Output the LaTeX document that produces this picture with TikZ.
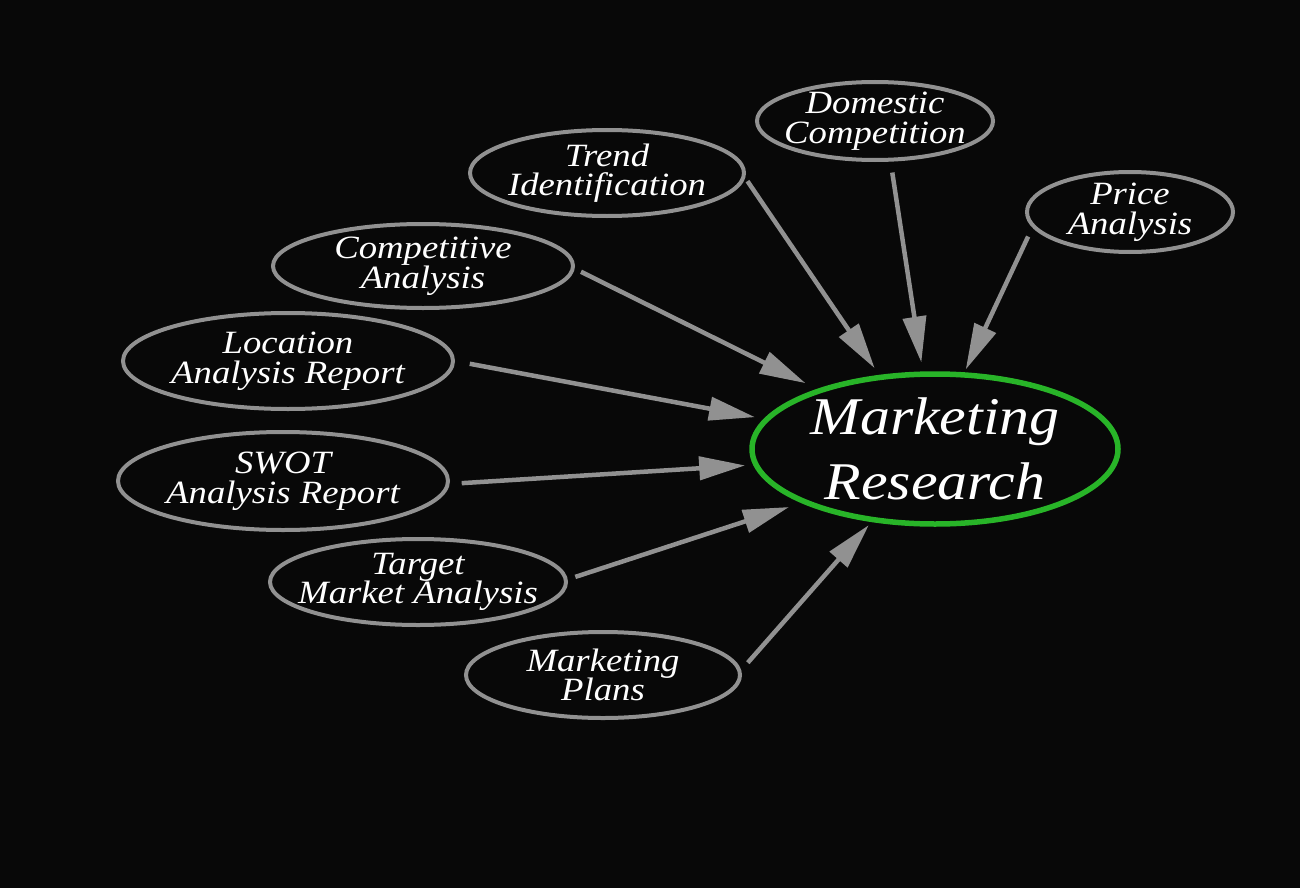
\documentclass[tikz,border=0pt]{standalone}
\usepackage{fontspec}
\setmainfont{Liberation Serif}[FakeStretch=1.13]
\usetikzlibrary{shapes.geometric,arrows.meta}
\definecolor{bubgray}{RGB}{145,145,145}
\definecolor{mrgreen}{RGB}{40,180,40}
\definecolor{bgblack}{RGB}{8,8,8}
\tikzset{
  bub/.style={ellipse, draw=bubgray, line width=4pt, inner xsep=-30pt, inner ysep=-20pt, align=center,
    text=white, font=\fontsize{32.5}{29.5}\selectfont\itshape},
  arr/.style={draw=bubgray, line width=4.5pt, -{Triangle[length=46pt,width=23pt]}},
}
\begin{document}
\begin{tikzpicture}[x=1pt,y=-1pt]
\fill[bgblack] (0,0) rectangle (1300,888);
\useasboundingbox (0,0) rectangle (1300,888);

\node[ellipse, draw=mrgreen, line width=5.5pt, minimum width=366pt, minimum height=150pt,
  inner sep=0pt, align=center, text=white, font=\fontsize{53}{65}\selectfont\itshape]
  (mr) at (935,449) {Marketing\\Research};

\node[bub, minimum width=274pt, minimum height=86pt] (trend) at (607,173) {Trend\\Identification};
\node[bub, minimum width=236pt, minimum height=78pt] (dom) at (875,121) {Domestic\\Competition};
\node[bub, minimum width=206pt, minimum height=80pt] (price) at (1130,212) {Price\\Analysis};
\node[bub, minimum width=300pt, minimum height=84pt] (comp) at (423,266) {Competitive\\Analysis};
\node[bub, minimum width=330pt, minimum height=96pt] (loc) at (288,361) {Location\\Analysis Report};
\node[bub, minimum width=330pt, minimum height=98pt] (swot) at (283,481) {SWOT\\Analysis Report};
\node[bub, minimum width=296pt, minimum height=86pt] (target) at (418,582) {Target\\Market Analysis};
\node[bub, minimum width=274pt, minimum height=86pt] (plans) at (603,675) {Marketing\\Plans};

\draw[arr, shorten <=4pt, shorten >=8pt] (trend.-2) -- (mr.127);
\draw[arr, shorten <=11pt, shorten >=9pt] (dom.-69) -- (mr.99);
\draw[arr, shorten <=10pt, shorten >=3pt] (price.189) -- (mr.69);
\draw[arr, shorten <=7pt, shorten >=13pt] (comp.-1) -- (mr.153);
\draw[arr, shorten <=15pt, shorten >=9pt] (loc.0) -- (mr.170);
\draw[arr, shorten <=12pt, shorten >=8pt] (swot.-1) -- (mr.185);
\draw[arr, shorten <=8pt, shorten >=13pt] (target.1) -- (mr.202);
\draw[arr, shorten <=10pt, shorten >=4pt] (plans.2) -- (mr.229);
\end{tikzpicture}
\end{document}
